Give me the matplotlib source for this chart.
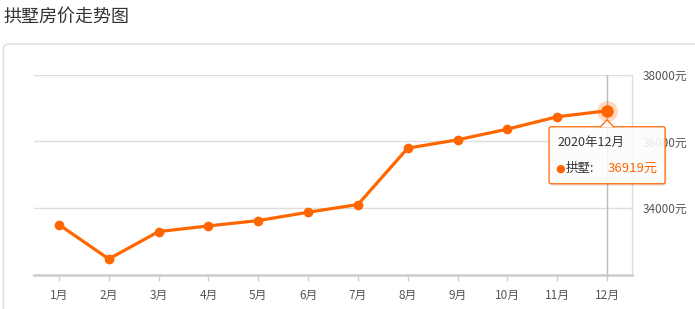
import matplotlib
matplotlib.use("Agg")
import matplotlib.pyplot as plt
from matplotlib.patches import FancyBboxPatch, Polygon
from matplotlib.transforms import IdentityTransform
import numpy as np

plt.rcParams['font.family'] = ['Noto Sans CJK SC', 'DejaVu Sans']

title = "拱墅房价走势图"
months = ["1月", "2月", "3月", "4月", "5月", "6月", "7月", "8月", "9月", "10月", "11月", "12月"]
prices = [33510, 32480, 33300, 33470, 33630, 33880, 34110, 35800, 36050, 36370, 36740, 36919]
series_name = "拱墅"
tooltip_title = "2020年12月"
yticks = [34000, 36000, 38000]
ymin, ymax = 32000, 38000

ORANGE = "#ff6600"
W, H = 695, 309
fig = plt.figure(figsize=(W / 100, H / 100), dpi=100)
fig.patch.set_facecolor("white")

# outer card border
card = FancyBboxPatch((3.5 / W, -0.2), 1.2, (H - 44) / H + 0.2,
                      boxstyle="round,pad=0,rounding_size=0.012",
                      transform=fig.transFigure, facecolor="white",
                      edgecolor="#dddddd", linewidth=1.0, zorder=-5)
fig.patches.append(card)

fig.text(4 / W, 1 - 17 / H, title, fontsize=13, color="#333333",
         ha="left", va="center")

ax = fig.add_axes([34 / W, (H - 275) / H, (632 - 34) / W, (275 - 74.7) / H])
ax.set_zorder(1)
ax.set_facecolor("none")
x = np.arange(len(months))
ax.set_xlim(-0.5, len(months) - 0.5)
ax.set_ylim(ymin, ymax)

for s in ["top", "left"]:
    ax.spines[s].set_visible(False)
ax.spines["right"].set_color("#dddddd")
ax.spines["right"].set_linewidth(1.0)
ax.spines["bottom"].set_color("#cccccc")
ax.spines["bottom"].set_linewidth(1.8)

ax.set_yticks(yticks)
ax.set_yticklabels([f"{v}元" for v in yticks])
ax.yaxis.tick_right()
ax.tick_params(axis="y", length=0, pad=8, labelsize=8.5, labelcolor="#555555")
ax.grid(axis="y", color="#dddddd", linewidth=1.0)
ax.set_axisbelow(True)

ax.set_xticks(x)
ax.set_xticklabels(months)
ax.tick_params(axis="x", length=4, width=1, color="#cccccc", pad=6,
               labelsize=8.5, labelcolor="#555555")

# cursor line at last point
ax.axvline(x[-1], color="#bbbbbb", linewidth=1.0, zorder=1)

ax.plot(x, prices, color=ORANGE, linewidth=2.3, marker="o", markersize=6,
        solid_joinstyle="round", zorder=3, clip_on=False)
# highlighted last point
ax.plot([x[-1]], [prices[-1]], marker="o", markersize=15, color=ORANGE,
        alpha=0.25, markeredgewidth=0, zorder=3, clip_on=False)
ax.plot([x[-1]], [prices[-1]], marker="o", markersize=9, color=ORANGE,
        markeredgewidth=0, zorder=4, clip_on=False)

# tooltip anchored to last point (pixel offsets)
fig.canvas.draw()
px, py = ax.transData.transform((x[-1], prices[-1]))
bx0, bx1 = px - 58, px + 58
by_top, by_bot = py - 16, py - 73
tip = FancyBboxPatch((bx0, by_bot), bx1 - bx0, by_top - by_bot,
                     boxstyle="round,pad=0,rounding_size=2",
                     transform=IdentityTransform(), facecolor=(1, 1, 1, 0.88),
                     edgecolor=ORANGE, linewidth=0.9, zorder=10)
fig.patches.append(tip)
shadow = FancyBboxPatch((bx0 + 1.5, by_bot - 2), bx1 - bx0, by_top - by_bot,
                        boxstyle="round,pad=0,rounding_size=2",
                        transform=IdentityTransform(), facecolor=(0, 0, 0, 0.08),
                        edgecolor="none", zorder=9)
fig.patches.append(shadow)
arrow = Polygon([(px - 7, by_top - 0.5), (px, by_top + 7), (px + 7, by_top - 0.5)],
                closed=False, transform=IdentityTransform(), facecolor="white",
                edgecolor=ORANGE, linewidth=0.9, zorder=11)
fig.patches.append(arrow)

fig.text((bx0 + 8.5) / W, (by_top - 16) / H, tooltip_title, fontsize=9,
         color="#333333", ha="left", va="center", zorder=12)
fig.text((bx0 + 6.5) / W, (by_top - 42) / H, "●", fontsize=8, color=ORANGE,
         ha="left", va="center", zorder=12, family=["DejaVu Sans"])
fig.text((bx0 + 17) / W, (by_top - 42) / H, f"{series_name}:", fontsize=9,
         color="#333333", ha="left", va="center", zorder=12)
fig.text((bx0 + 59) / W, (by_top - 42) / H, f"{prices[-1]}元", fontsize=9.5,
         color=ORANGE, ha="left", va="center", zorder=12)

fig.savefig("out.png", dpi=100, facecolor="white")
